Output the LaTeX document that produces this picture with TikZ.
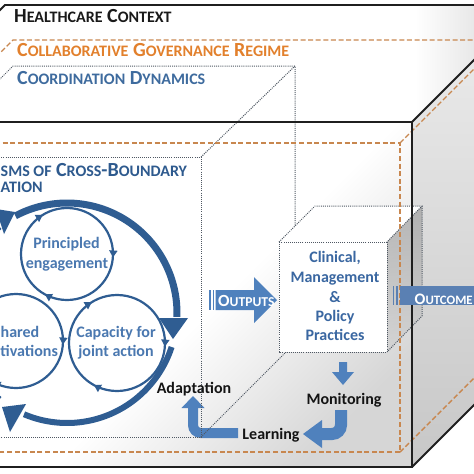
\documentclass[tikz,border=0pt]{standalone}
\usepackage{fontspec}
\setmainfont{Carlito}
\usetikzlibrary{arrows.meta,decorations.markings}
\definecolor{cblue}{HTML}{2F5D92}
\definecolor{tblue}{HTML}{4A78B0}
\definecolor{kblue}{HTML}{3A67A1}
\definecolor{ablue}{HTML}{4F81BD}
\definecolor{oblue}{HTML}{5A80B3}
\definecolor{corange}{HTML}{E2802C}
\definecolor{dorange}{HTML}{C8874F}
\definecolor{dotgray}{HTML}{4F5863}
\definecolor{hblue}{HTML}{3E6B9E}
\definecolor{mblue}{HTML}{2E5A8E}
\newcommand\sm[2]{{\fontsize{#1}{#1}\selectfont #2}}
\pgfdeclarehorizontalshading{frontsh}{100bp}{color(0bp)=(white); color(25bp)=(white); color(52bp)=(white); color(75bp)=(black!16); color(100bp)=(black!16)}
\begin{document}
\begin{tikzpicture}[x=1pt,y=-1pt,
  boxline/.style={draw=black!88, line width=1.8pt},
  orangeline/.style={draw=dorange, line width=1.4pt, dash pattern=on 5pt off 2.6pt},
  dotline/.style={draw=dotgray, line width=1pt, dash pattern=on 1pt off 1.1pt},
  ttl/.style={anchor=base west, inner sep=0pt, font=\bfseries\fontsize{20}{20}\selectfont},
  lbl/.style={anchor=base, inner sep=0pt, font=\bfseries\fontsize{16}{16}\selectfont},
  lblw/.style={anchor=base west, inner sep=0pt, font=\bfseries\fontsize{16}{16}\selectfont},
  ring/.style={draw=cblue, color=cblue, line width=2.2pt, postaction={decorate, decoration={markings,
     mark=at position 0.012 with {\arrow{Triangle[width=8pt,length=7pt]}},
     mark=at position 0.33 with {\arrow{Triangle[width=8pt,length=7pt]}},
     mark=at position 0.662 with {\arrow{Triangle[width=8pt,length=7pt]}}}}},
  bigarc/.style={draw=cblue, line width=7pt},
]
\useasboundingbox (0,0) rectangle (474,474);
\clip (0,0) rectangle (474,474);
\fill[white] (0,0) rectangle (474,474);
% shadings
\shade[left color=white, right color=black!9] (415,6) -- (474,6) -- (474,121) -- (415,121) -- cycle;
\shade[top color=black!7, bottom color=black!22] (412,122) -- (529,5) -- (529,350) -- (412,467) -- cycle;
\shade[shading=frontsh, shading angle=-45] (-5,122) rectangle (412,467);
% big cycle
\draw[bigarc] plot[domain=242:362, samples=50] ({67+110*cos(\x)},{313+110*sin(\x)});
\draw[bigarc, line width=6pt] plot[domain=18:113, samples=40] ({67+110*cos(\x)},{313+110*sin(\x)});
\draw[bigarc] plot[domain=128:232, samples=40] ({67+110*cos(\x)},{313+110*sin(\x)});
\fill[cblue] (159,318) -- (188,318) -- (173,339) -- cycle;
\fill[cblue] (2,407) -- (26,404) -- (10,432) -- cycle;
\fill[cblue] (-4,209) -- (15,212) -- (4,234) -- cycle;
% small cycles
\path[ring] (67,254) circle[radius=46];
\path[ring] (117,343) circle[radius=48];
\path[ring] (16,341) circle[radius=47];
% block arrows
\fill[ablue] (209.3,290) rectangle (210.8,310);
\fill[ablue] (212.5,290) rectangle (214,310);
\fill[ablue] (215.5,290) -- (254,290) -- (254,277) -- (277,300) -- (254,323) -- (254,310) -- (215.5,310) -- cycle;
\fill[ablue] (339,362) -- (347,362) -- (347,372) -- (354,372) -- (343,385) -- (332,372) -- (339,372) -- cycle;
\draw[ablue, line width=12pt, rounded corners=9pt] (341,410) -- (341,434) -- (321,434);
\fill[ablue] (322,420) -- (322,448) -- (303,434) -- cycle;
\draw[ablue, line width=10pt, rounded corners=8pt] (238,433) -- (193,433) -- (193,407);
\fill[ablue] (181.5,408) -- (204.5,408) -- (193,396) -- cycle;
% coordination dynamics box
\draw[dotline] (-78,157) -- (13,66) -- (295,66) -- (295,240);
\draw[dotline] (-5,157) -- (201,157) -- (201,437) -- (-5,437);
\draw[dotline] (201,157) -- (295,66);
\draw[dotline] (201,437) -- (294,344);
% practices cube
\fill[white] (279,242) rectangle (387,352);
\fill[white] (279,242) -- (315,206) -- (422,206) -- (387,242) -- cycle;
\shade[top color=black!38, bottom color=black!18, opacity=0.7] (387,242) -- (422,206) -- (422,316) -- (387,352) -- cycle;
\draw[dotline] (279,242) rectangle (387,352);
\draw[dotline] (279,242) -- (315,206) -- (422,206) -- (387,242);
\draw[dotline] (422,206) -- (422,316) -- (387,352);
% governance regime box
\draw[orangeline] (-90,143) -- (13,40) -- (480,40);
\draw[orangeline] (-5,143) -- (400,143) -- (400,452) -- (-5,452);
\draw[orangeline] (400,143) -- (503,40);
\draw[orangeline] (400,452) -- (480,372);
% healthcare context box
\draw[boxline] (-112,122) -- (5,5) -- (480,5);
\draw[boxline] (-5,122) -- (412,122) -- (412,467) -- (-5,467);
\draw[boxline] (412,122) -- (529,5);
\draw[boxline] (412,467) -- (480,399);
% outcomes band
\fill[oblue] (392.5,286) rectangle (394,305);
\fill[oblue] (396,286) rectangle (397.5,305);
\fill[oblue] (399.5,286) rectangle (480,305);
% titles
\node[ttl, text=black!90] (hc) at (14,22.5) {H\sm{16}{EALTHCARE} C\sm{16}{ONTEXT}};
\node[ttl, text=corange] (cgr) at (17,56.5) {C\sm{16}{OLLABORATIVE} G\sm{16}{OVERNANCE} R\sm{16}{EGIME}};
\node[ttl, text=hblue] (cd) at (17,84) {C\sm{16}{OORDINATION} D\sm{16}{YNAMICS}};
\node[anchor=base west, inner sep=0pt, text=mblue, font=\bfseries\fontsize{20}{16}\selectfont] (mech) at (0.5,176)
  {\begin{tabular}[t]{@{}l@{}}\sm{16}{SMS OF} C\sm{16}{ROSS}-B\sm{16}{OUNDARY}\\ \sm{16}{ATION}\end{tabular}};
% circle labels
\node[lbl, text=tblue] (pe1) at (66.5,248.6) {Principled};
\node[lbl, text=tblue] (pe2) at (67,268.2) {engagement};
\node[lblw, text=tblue] (sm1) at (0.5,337) {hared};
\node[lblw, text=tblue] (sm2) at (0.3,356.6) {tivations};
\node[lbl, text=tblue] (cj1) at (116,337) {Capacity for};
\node[lbl, text=tblue] (cj2) at (116,356.6) {joint action};
% cube labels
\node[lbl, text=kblue] (pr1) at (335,262) {Clinical,};
\node[lbl, text=kblue] (pr2) at (335,282) {Management};
\node[lbl, text=kblue] (pr3) at (335,302) {\&};
\node[lbl, text=kblue] (pr4) at (335,321) {Policy};
\node[lbl, text=kblue] (pr5) at (335,340.5) {Practices};
% arrow labels
\node[anchor=base west, inner sep=0pt, text=white, font=\bfseries\fontsize{17}{17}\selectfont] (outp) at (218,306.5) {O\sm{13.6}{UTPUTS}};
\node[anchor=base west, inner sep=0pt, text=white, font=\bfseries\fontsize{16}{16}\selectfont] (outc) at (414.5,304) {O\sm{12.8}{UTCOME}};
\node[lbl, text=black!92] (mon) at (344,404.3) {Monitoring};
\node[lbl, text=black!92] (lea) at (271,439.6) {Learning};
\node[lbl, text=black!92] (ada) at (194,393.6) {Adaptation};
\end{tikzpicture}
\end{document}
